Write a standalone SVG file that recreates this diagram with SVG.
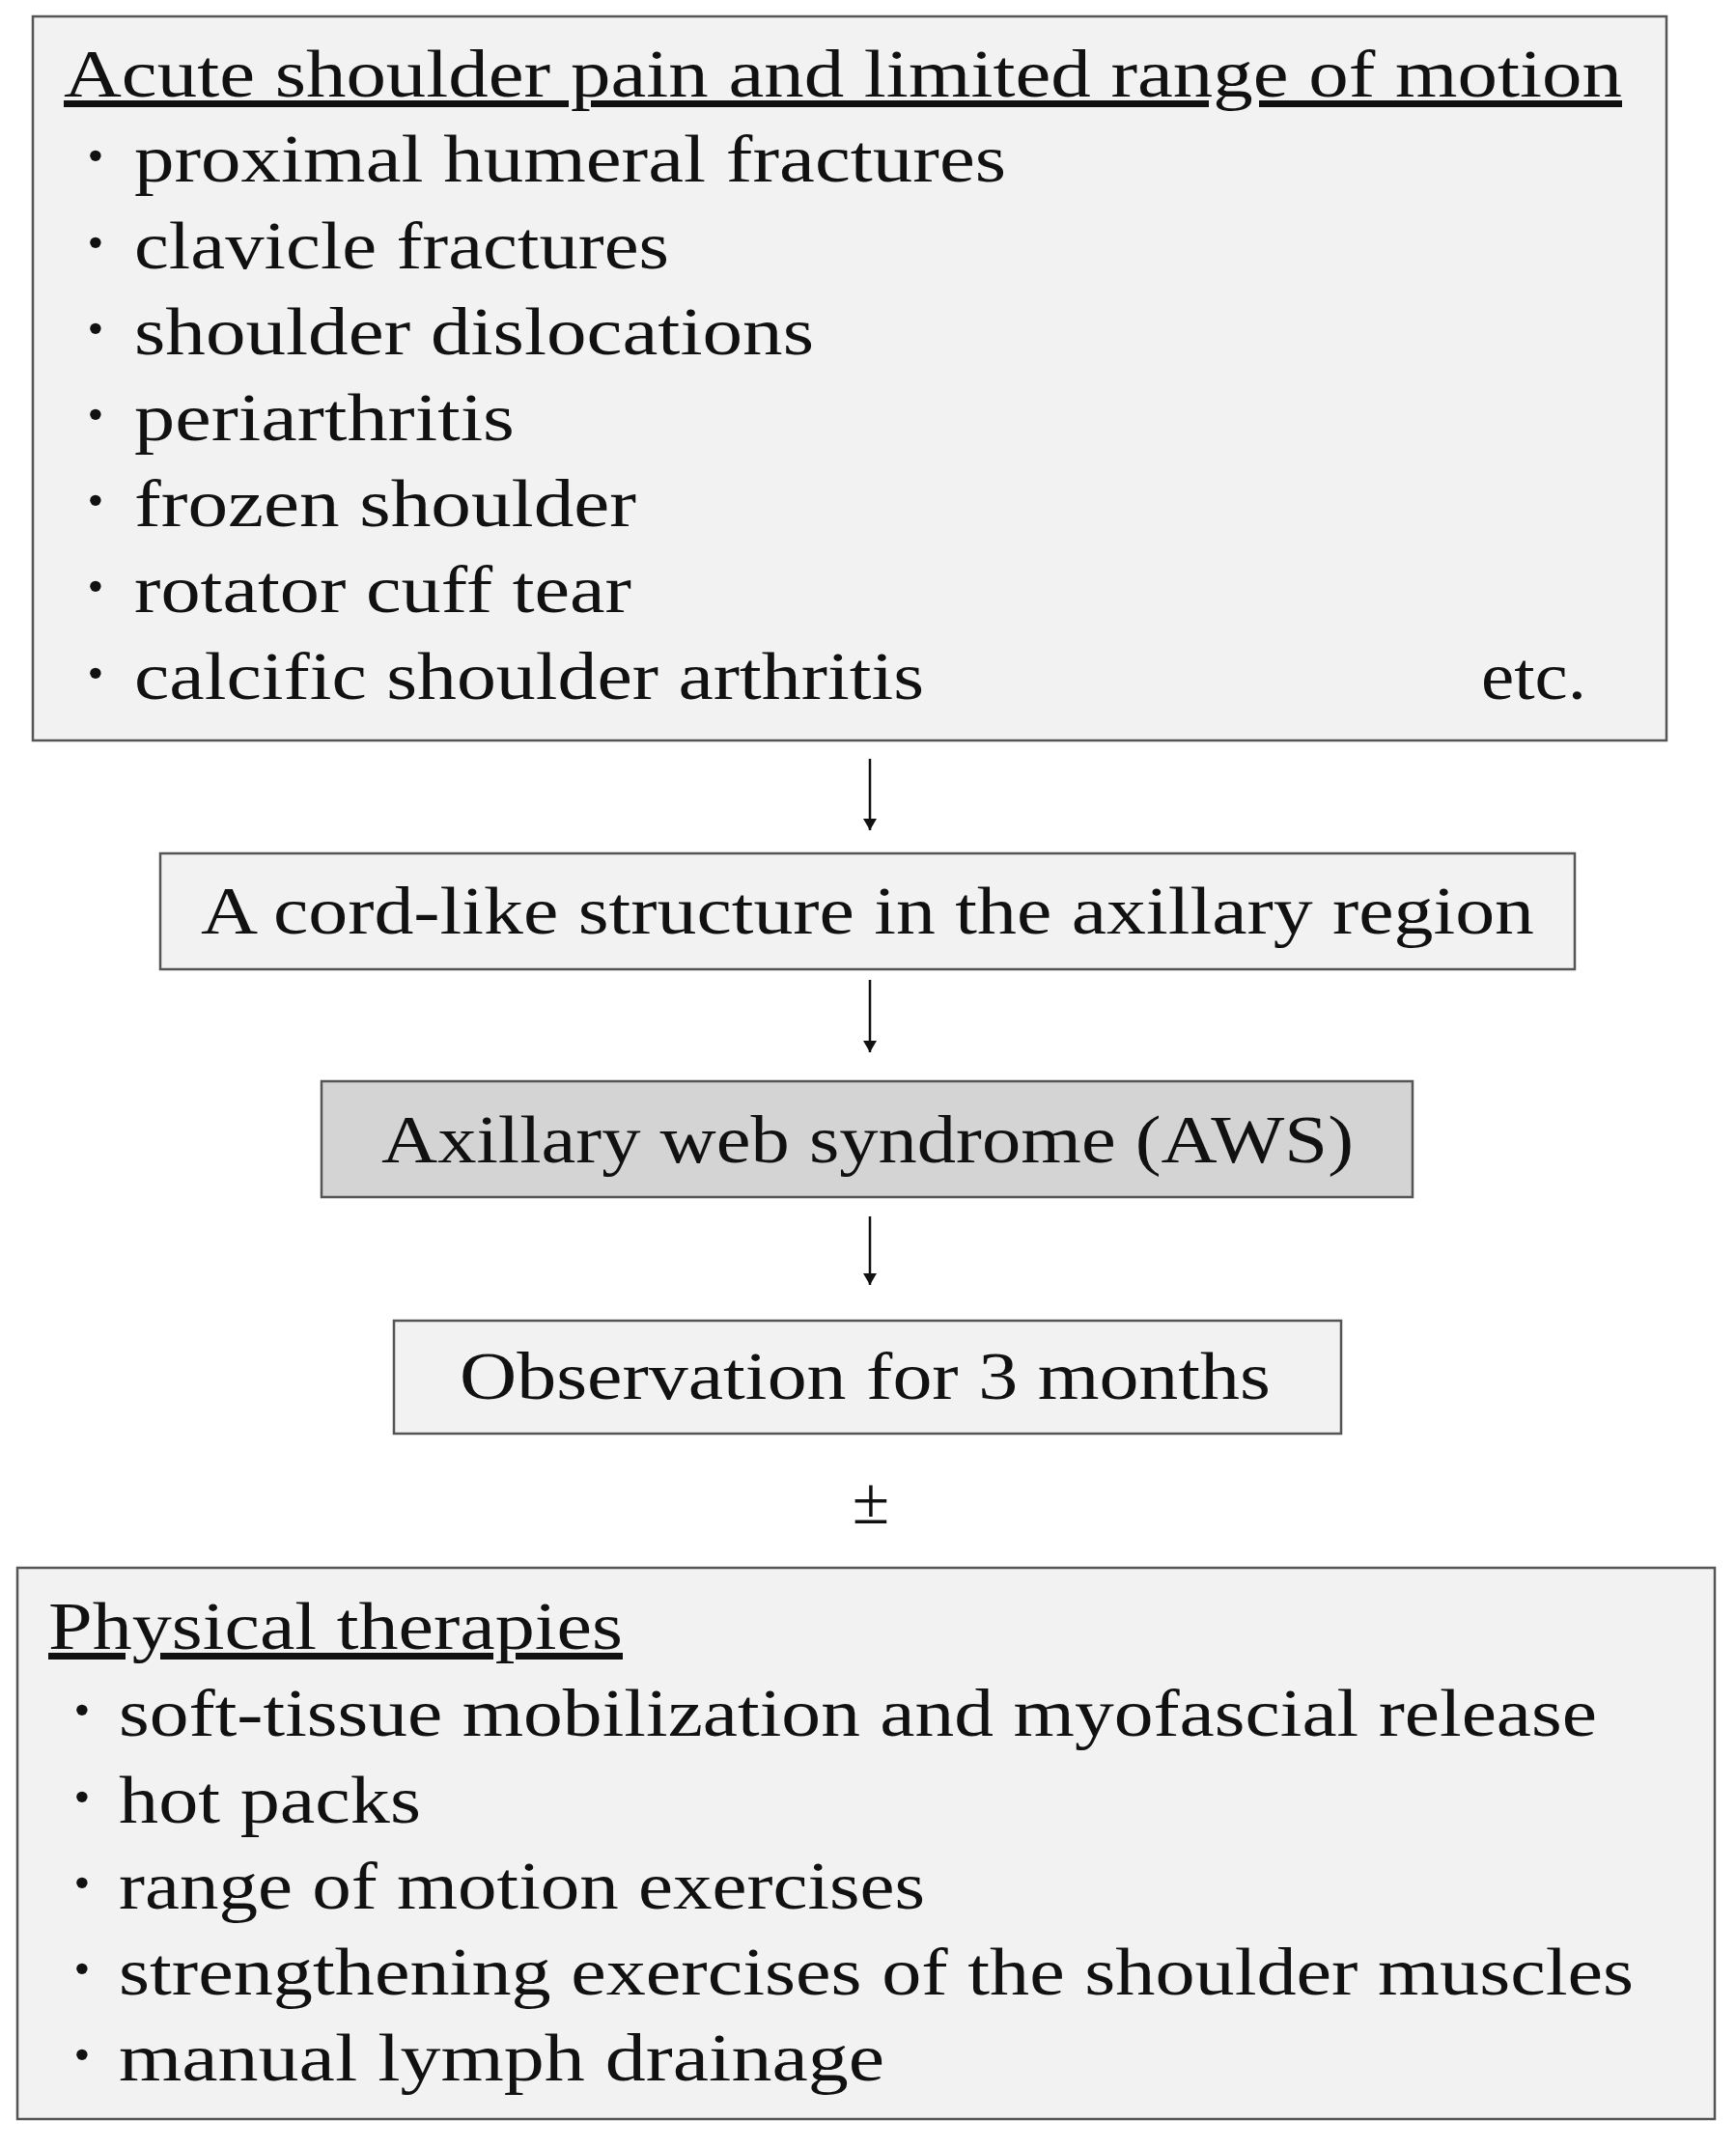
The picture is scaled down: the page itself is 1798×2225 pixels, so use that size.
<svg xmlns="http://www.w3.org/2000/svg" width="1798" height="2225" viewBox="0 0 1798 2225">
<style>
.box{fill:#f2f2f2;stroke:#555;stroke-width:2.5}
.dark{fill:#d4d4d4}
text{font-family:"Liberation Serif","DejaVu Serif",serif;font-size:70px;fill:#111}
.b{text-anchor:middle;font-weight:bold}
.u{text-decoration:underline}
.c{stroke:#111;stroke-width:2.5;fill:none}
</style>
<defs><marker id="ah" viewBox="0 0 12 14" refX="12" refY="7" markerWidth="16" markerHeight="14" markerUnits="userSpaceOnUse" orient="auto"><path d="M0,0 L12,7 L0,14 z" fill="#111"/></marker></defs>
<rect width="1798" height="2225" fill="#fff"/>
<g id="n1">
<rect class="box" x="34" y="17" width="1692" height="750"/>
<text class="u" x="66" y="100" textLength="1614" lengthAdjust="spacingAndGlyphs">Acute shoulder pain and limited range of motion</text>
<text class="b" x="99" y="184">·</text><text x="139" y="188" textLength="903" lengthAdjust="spacingAndGlyphs">proximal humeral fractures</text>
<text class="b" x="99" y="274">·</text><text x="139" y="278" textLength="554" lengthAdjust="spacingAndGlyphs">clavicle fractures</text>
<text class="b" x="99" y="363">·</text><text x="139" y="367" textLength="704" lengthAdjust="spacingAndGlyphs">shoulder dislocations</text>
<text class="b" x="99" y="452">·</text><text x="139" y="456" textLength="394" lengthAdjust="spacingAndGlyphs">periarthritis</text>
<text class="b" x="99" y="541">·</text><text x="139" y="545" textLength="520" lengthAdjust="spacingAndGlyphs">frozen shoulder</text>
<text class="b" x="99" y="630">·</text><text x="139" y="634" textLength="515" lengthAdjust="spacingAndGlyphs">rotator cuff tear</text>
<text class="b" x="99" y="720">·</text><text x="139" y="724" textLength="818" lengthAdjust="spacingAndGlyphs">calcific shoulder arthritis</text>
<text x="1534" y="724" textLength="109" lengthAdjust="spacingAndGlyphs">etc.</text>
</g>
<g id="n2">
<rect class="box" x="166" y="884" width="1465" height="120"/>
<text x="208" y="967" textLength="1381" lengthAdjust="spacingAndGlyphs">A cord-like structure in the axillary region</text>
</g>
<g id="n3">
<rect class="box dark" x="333" y="1120" width="1130" height="120"/>
<text x="395" y="1204" textLength="1007" lengthAdjust="spacingAndGlyphs">Axillary web syndrome (AWS)</text>
</g>
<g id="n4">
<rect class="box" x="408" y="1368" width="981" height="117"/>
<text x="476" y="1449" textLength="840" lengthAdjust="spacingAndGlyphs">Observation for 3 months</text>
</g>
<g id="pm"><text x="902" y="1578" text-anchor="middle" font-size="120">±</text></g>
<g id="n5">
<rect class="box" x="18" y="1624" width="1758" height="571"/>
<text class="u" x="50" y="1708" textLength="595" lengthAdjust="spacingAndGlyphs">Physical therapies</text>
<text class="b" x="85" y="1794">·</text><text x="123" y="1798" textLength="1531" lengthAdjust="spacingAndGlyphs">soft-tissue mobilization and myofascial release</text>
<text class="b" x="85" y="1884">·</text><text x="123" y="1888" textLength="313" lengthAdjust="spacingAndGlyphs">hot packs</text>
<text class="b" x="85" y="1973">·</text><text x="123" y="1977" textLength="835" lengthAdjust="spacingAndGlyphs">range of motion exercises</text>
<text class="b" x="85" y="2062">·</text><text x="123" y="2066" textLength="1569" lengthAdjust="spacingAndGlyphs">strengthening exercises of the shoulder muscles</text>
<text class="b" x="85" y="2151">·</text><text x="123" y="2155" textLength="793" lengthAdjust="spacingAndGlyphs">manual lymph drainage</text>
</g>
<g id="connectors">
<line class="c" x1="901" y1="786" x2="901" y2="860" marker-end="url(#ah)"/>
<line class="c" x1="901" y1="1015" x2="901" y2="1090" marker-end="url(#ah)"/>
<line class="c" x1="901" y1="1260" x2="901" y2="1331" marker-end="url(#ah)"/>
</g>
</svg>
